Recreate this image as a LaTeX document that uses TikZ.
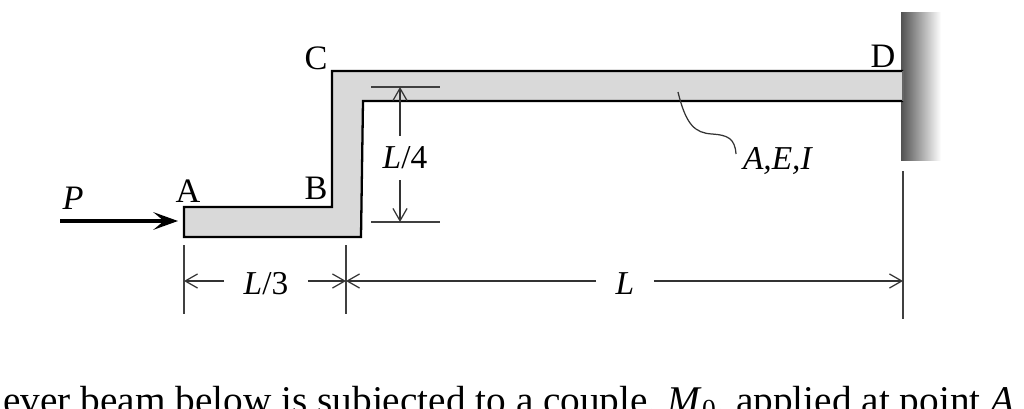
\documentclass[tikz,border=0pt]{standalone}
\usepackage{fontspec}
\setmainfont{Liberation Serif}
\usetikzlibrary{arrows.meta}
\tikzset{
    lbl/.style={inner sep=0pt, font=\fontsize{19.5}{24}\selectfont},
    dimlbl/.style={lbl, font=\fontsize{19}{24}\selectfont, inner xsep=11pt, inner ysep=6pt},
    extline/.style={draw=black!75, line width=0.65pt},
    dimline/.style={draw=black!80, line width=0.7pt, -{Straight Barb[length=7pt,width=8pt]}},
}
\begin{document}
\begin{tikzpicture}[x=0.2mm, y=-0.2mm]
    \useasboundingbox (0,0) rectangle (1024,409);
    \clip (0,0) rectangle (1024,409);
    \shade[left color=black!68, right color=white] (901,12) rectangle (941,160);
    \draw[fill=black!15, line width=1.3pt] (903,71) -- (332,71) -- (332,207) -- (184,207) -- (184,237) -- (361,237) -- (363,101) -- (903,101);
    \draw[line width=0.9pt, black!60] (903,71) -- (903,101);

    \node[lbl] (P) at (73,198) {\textit{P}};
    \node[lbl] (A) at (188,191) {A};
    \node[lbl] (B) at (316,188) {B};
    \node[lbl] (C) at (316,58) {C};
    \node[lbl] (D) at (883,56) {D};
    \node[lbl, font=\fontsize{19}{24}\selectfont] (AEI) at (778,161) {\textit{A,E,I}};
    \node[dimlbl] (lthird) at (266,284) {\textit{L}/3};
    \node[dimlbl] (lfull) at (625,284) {\textit{L}};
    \node[dimlbl] (lfour) at (405,158) {\textit{L}/4};
    \node[lbl, font=\fontsize{22.35}{26}\selectfont, anchor=base west] (caption) at (3,413) {ever beam below is subjected to a couple, \textit{M}\textsubscript{0}, applied at point \textit{A}};

    \coordinate (Pfrom) at (60,221);
    \coordinate (Pto) at (178,221);
    \coordinate (leader) at (678,92);
    \coordinate (leaderend) at (736,154);
    \coordinate (e1a) at (184,245);
    \coordinate (e1b) at (184,314);
    \coordinate (e2a) at (346,245);
    \coordinate (e2b) at (346,314);
    \coordinate (e3a) at (903,171);
    \coordinate (e3b) at (903,319);
    \coordinate (e4a) at (371,87);
    \coordinate (e4b) at (440,87);
    \coordinate (e5a) at (371,222);
    \coordinate (e5b) at (440,222);
    \coordinate (lfourtop) at (400,87);
    \coordinate (lfourbot) at (400,222);
    \coordinate (d1) at (184,281);
    \coordinate (d2) at (346,281);
    \coordinate (d3) at (903,281);

    \draw[line width=2.5pt, -{Stealth[length=14pt,width=10pt,inset=6pt]}] (Pfrom) -- (Pto);
    \draw[line width=0.7pt, black!80] (leader) .. controls (686,125) and (695,133) .. (712,134) .. controls (727,135) and (735,138) .. (leaderend);
    \draw[extline] (e1a) -- (e1b);
    \draw[extline] (e2a) -- (e2b);
    \draw[extline] (e3a) -- (e3b);
    \draw[extline] (e4a) -- (e4b);
    \draw[extline] (e5a) -- (e5b);
    \draw[dimline] (lthird.west |- d1) -- (d1);
    \draw[dimline] (lthird.east |- d2) -- (d2);
    \draw[dimline] (lfull.west |- d2) -- (d2);
    \draw[dimline] (lfull.east |- d3) -- (d3);
    \draw[dimline] (lfourtop |- lfour.north) -- (lfourtop);
    \draw[dimline] (lfourbot |- lfour.south) -- (lfourbot);
\end{tikzpicture}
\end{document}
